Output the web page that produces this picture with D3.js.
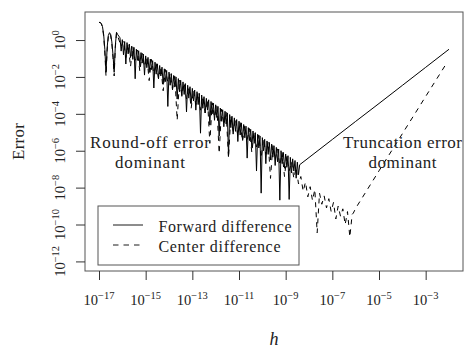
<!DOCTYPE html>
<html><head><meta charset="utf-8">
<script src="https://cdn.jsdelivr.net/npm/d3@7"></script>
<style>body{margin:0;background:#fff}svg{display:block}</style>
</head><body>
<script>
// log10(h) and log10(error) for the forward difference
const fwdLogH = [-17.00,-16.95,-16.90,-16.85,-16.80,-16.75,-16.70,-16.65,-16.60,-16.55,-16.50,-16.45,-16.40,-16.35,-16.30,-16.25,-16.20,
-16.10,-16.05,-16.00,-15.95,-15.90,-15.85,-15.80,-15.75,-15.70,-15.65,-15.60,-15.55,-15.50,-15.45,-15.40,-15.35,-15.30,-15.25,-15.20,-15.15,
-15.10,-15.05,-15.00,-14.95,-14.90,-14.85,-14.80,-14.75,-14.70,-14.65,-14.60,-14.55,-14.50,-14.45,-14.40,-14.35,-14.30,-14.25,-14.20,-14.15,
-14.10,-14.05,-14.00,-13.95,-13.90,-13.85,-13.80,-13.75,-13.70,-13.65,-13.60,-13.55,-13.50,-13.45,-13.40,-13.35,-13.30,-13.25,-13.20,-13.15,
-13.10,-13.05,-13.00,-12.95,-12.90,-12.85,-12.80,-12.75,-12.70,-12.65,-12.60,-12.55,-12.50,-12.45,-12.40,-12.35,-12.30,-12.25,-12.20,-12.15,
-12.10,-12.05,-12.00,-11.95,-11.90,-11.85,-11.80,-11.75,-11.70,-11.65,-11.60,-11.55,-11.50,-11.45,-11.40,-11.35,-11.30,-11.25,-11.20,-11.15,
-11.10,-11.05,-11.00,-10.95,-10.90,-10.85,-10.80,-10.75,-10.70,-10.65,-10.60,-10.55,-10.50,-10.45,-10.40,-10.35,-10.30,-10.25,-10.20,-10.15,
-10.10,-10.05,-10.00,-9.95,-9.90,-9.85,-9.80,-9.75,-9.70,-9.65,-9.60,-9.55,-9.50,-9.45,-9.40,-9.35,-9.30,-9.25,-9.20,-9.15,
-9.10,-9.05,-9.00,-8.95,-8.90,-8.85,-8.80,-8.75,-8.70,-8.65,-8.60,-8.55,-8.50,-8.45,
-8.4,-7,-6,-5,-4,-3,-2];
const fwdLogErr = [0.96,0.95,0.90,0.72,0.30,-0.50,-1.75,-0.40,0.25,0.40,0.30,-0.10,-0.80,-1.75,-0.30,0.42,0.30,
0.12,-0.60,0.02,-0.80,-0.08,-1.30,-0.14,-0.75,-0.22,-0.95,-0.33,-1.05,-0.40,-2.10,-0.50,-1.10,-0.58,-1.40,-0.68,-1.25,
-0.76,-1.90,-0.86,-1.50,-0.94,-1.75,-1.03,-1.60,-1.12,-2.60,-1.20,-1.85,-1.29,-2.10,-1.38,-1.95,-1.47,-2.40,-1.56,-2.25,
-1.65,-3.60,-1.74,-2.45,-1.82,-2.70,-1.92,-2.55,-2.00,-3.20,-2.09,-2.80,-2.18,-3.05,-2.27,-2.95,-2.36,-3.90,-2.45,-3.15,
-2.53,-3.45,-2.62,-3.30,-2.71,-3.80,-2.80,-3.50,-2.89,-5.05,-2.98,-3.70,-3.07,-3.95,-3.16,-3.80,-3.24,-4.60,-3.33,-4.00,
-3.42,-4.35,-3.51,-4.20,-3.60,-5.20,-3.69,-4.40,-3.78,-4.70,-3.86,-4.55,-3.95,-6.30,-4.04,-4.75,-4.13,-5.10,-4.22,-4.95,
-4.31,-5.50,-4.40,-5.15,-4.49,-5.40,-4.58,-5.30,-4.67,-6.40,-4.75,-5.45,-4.84,-5.80,-4.93,-5.60,-5.02,-7.10,-5.11,-5.85,
-5.20,-8.30,-5.29,-6.00,-5.38,-6.70,-5.47,-6.20,-5.55,-6.50,-5.64,-6.35,-5.73,-6.80,-5.82,-6.60,-5.91,-8.68,-6.00,-6.70,
-6.09,-6.95,-6.18,-6.90,-6.27,-8.64,-6.36,-7.20,-6.44,-7.10,-6.53,-7.49,-6.62,-7.30,
-6.76,-5.39,-4.41,-3.44,-2.46,-1.48,-0.50];

// log10(h) and log10(error) for the center difference
const ctrLogH = [-17.00,-16.95,-16.90,-16.85,-16.80,-16.75,-16.70,-16.65,-16.60,-16.55,-16.50,-16.45,-16.40,-16.35,-16.30,-16.25,-16.20,
-16.05,-15.95,-15.85,-15.75,-15.65,-15.55,-15.45,-15.35,-15.25,-15.15,
-15.05,-14.95,-14.85,-14.75,-14.65,-14.55,-14.45,-14.35,-14.25,-14.15,
-14.05,-13.95,-13.85,-13.75,-13.65,-13.55,-13.45,-13.35,-13.25,-13.15,
-13.05,-12.95,-12.85,-12.75,-12.65,-12.55,-12.45,-12.35,-12.25,-12.15,
-12.05,-11.95,-11.85,-11.75,-11.65,-11.55,-11.45,-11.35,-11.25,-11.15,
-11.05,-10.95,-10.85,-10.75,-10.65,-10.55,-10.45,-10.35,-10.25,-10.15,
-10.05,-9.95,-9.85,-9.75,-9.65,-9.55,-9.45,-9.35,-9.25,-9.15,
-9.05,-8.95,-8.85,-8.75,-8.65,-8.55,-8.45,-8.35,-8.25,-8.15,
-8.05,-7.95,-7.85,-7.75,-7.65,-7.55,-7.45,-7.35,-7.25,-7.15,
-7.05,-6.95,-6.85,-6.75,-6.65,-6.55,-6.45,-6.35,-6.25,-6.15,
-6.1,-6.0,-5,-4,-3,-2.1];
const ctrLogErr = [0.96,0.94,0.88,0.68,0.20,-0.70,-1.95,-0.55,0.20,0.38,0.25,-0.20,-0.95,-1.95,-0.40,0.38,0.22,
-0.35,-0.05,-0.95,-0.20,-1.45,-0.35,-1.10,-0.55,-1.70,-0.72,
-1.45,-0.90,-2.20,-1.05,-1.85,-1.25,-2.10,-1.45,-2.75,-1.60,
-2.30,-1.80,-2.65,-1.95,-4.35,-2.15,-3.00,-2.32,-3.20,-2.50,
-3.70,-2.70,-3.50,-2.85,-3.80,-3.05,-3.95,-3.22,-5.60,-3.40,
-4.20,-3.55,-6.15,-3.75,-4.60,-3.92,-6.40,-4.10,-4.95,-4.25,
-5.20,-4.45,-5.50,-4.62,-5.40,-4.80,-6.10,-4.98,-5.80,-5.15,
-6.40,-5.35,-6.20,-5.52,-7.50,-5.72,-6.50,-5.90,-6.80,-6.10,
-7.40,-6.30,-7.10,-6.60,-7.50,-6.90,-7.80,-7.40,-8.20,-7.70,
-8.50,-7.95,-8.70,-8.10,-10.45,-8.30,-8.90,-8.45,-9.10,-8.60,
-9.30,-8.80,-9.70,-9.00,-9.55,-9.15,-10.00,-9.30,-10.68,-9.45,
-9.38,-9.12,-7.09,-5.08,-3.06,-1.25];

const xTickExps = [-17,-15,-13,-11,-9,-7,-5,-3];
const yTickExps = [0,-2,-4,-6,-8,-10,-12];
const legendLabels = ["Forward difference","Center difference"];
const noteLeft = ["Round-off error","dominant"];
const noteRight = ["Truncation error","dominant"];
const xTitle = "h", yTitle = "Error";

const W = 474, H = 356;
const font = "'Liberation Serif','Times New Roman',serif";
const svg = d3.select("body").append("svg").attr("width", W).attr("height", H)
  .style("font-family", font);

const x = d3.scaleLog().domain([Math.pow(10,-17.6), Math.pow(10,-1.4)]).range([85, 463]);
const y = d3.scaleLog().domain([Math.pow(10,-12.52), Math.pow(10,1.52)]).range([271, 12]);

const mk = (hs, es) => hs.map((h, i) => [Math.pow(10, h), Math.pow(10, es[i])]);
const fwd = mk(fwdLogH, fwdLogErr);
const ctr = mk(ctrLogH, ctrLogErr);

const line = d3.line().x(d => x(d[0])).y(d => y(d[1]));

svg.append("path").datum(ctr).attr("d", line)
  .attr("fill","none").attr("stroke","#000").attr("stroke-width",1)
  .attr("stroke-dasharray","5,5");
svg.append("path").datum(fwd).attr("d", line)
  .attr("fill","none").attr("stroke","#000").attr("stroke-width",1);

// box
svg.append("rect").attr("x",85).attr("y",12).attr("width",378).attr("height",259)
  .attr("fill","none").attr("stroke","#555").attr("stroke-width",1);

// x axis
const gx = svg.append("g").attr("transform","translate(0,271)")
  .call(d3.axisBottom(x).tickValues(xTickExps.map(e => Math.pow(10,e))).tickSize(9).tickFormat(""));
gx.select(".domain").remove();
gx.selectAll(".tick line").attr("stroke","#333");
xTickExps.forEach(e => {
  const t = svg.append("text").attr("x", x(Math.pow(10,e))).attr("y", 305)
    .attr("text-anchor","middle").attr("font-size",14.5).attr("fill","#222");
  t.append("tspan").text("10");
  t.append("tspan").attr("dy",-6).attr("font-size",10.5).text("\u2212" + Math.abs(e));
});

// y axis
const gy = svg.append("g").attr("transform","translate(85,0)")
  .call(d3.axisLeft(y).tickValues(yTickExps.map(e => Math.pow(10,e))).tickSize(9).tickFormat(""));
gy.select(".domain").remove();
gy.selectAll(".tick line").attr("stroke","#333");
yTickExps.forEach(e => {
  const t = svg.append("text").attr("transform",`translate(65,${y(Math.pow(10,e))}) rotate(-90)`)
    .attr("text-anchor","middle").attr("font-size",14.5).attr("fill","#222");
  t.append("tspan").text("10");
  t.append("tspan").attr("dy",-6).attr("font-size",10.5).text(e === 0 ? "0" : "\u2212" + Math.abs(e));
});

// titles
svg.append("text").attr("x",274).attr("y",345).attr("text-anchor","middle")
  .attr("font-size",18).attr("font-style","italic").attr("fill","#222").text(xTitle);
svg.append("text").attr("transform","translate(24,141.5) rotate(-90)").attr("text-anchor","middle")
  .attr("font-size",17).attr("fill","#222").attr("textLength",37).attr("lengthAdjust","spacing").text(yTitle);

// annotations
const noteLen = [[120,70],[119,68]];
noteLeft.forEach((s,i) => svg.append("text").attr("x",150).attr("y",147.5 + i*20)
  .attr("text-anchor","middle").attr("font-size",17).attr("fill","#222")
  .attr("textLength",noteLen[0][i]).attr("lengthAdjust","spacing").text(s));
noteRight.forEach((s,i) => svg.append("text").attr("x",402.5).attr("y",147.5 + i*20)
  .attr("text-anchor","middle").attr("font-size",17).attr("fill","#222")
  .attr("textLength",noteLen[1][i]).attr("lengthAdjust","spacing").text(s));

// legend
svg.append("rect").attr("x",98).attr("y",206).attr("width",201).attr("height",59)
  .attr("fill","#fff").attr("stroke","#555").attr("stroke-width",1);
const legLen = [133,122];
legendLabels.forEach((s,i) => {
  const ly = 225 + i*20;
  svg.append("line").attr("x1",113).attr("x2",143).attr("y1",ly).attr("y2",ly)
    .attr("stroke","#000").attr("stroke-width",0.9)
    .attr("stroke-dasharray", i === 1 ? "5.5,5" : null);
  svg.append("text").attr("x",158.5).attr("y",ly+6.5).attr("font-size",16).attr("fill","#222")
    .attr("textLength",legLen[i]).attr("lengthAdjust","spacing").text(s);
});
</script>
</body></html>
